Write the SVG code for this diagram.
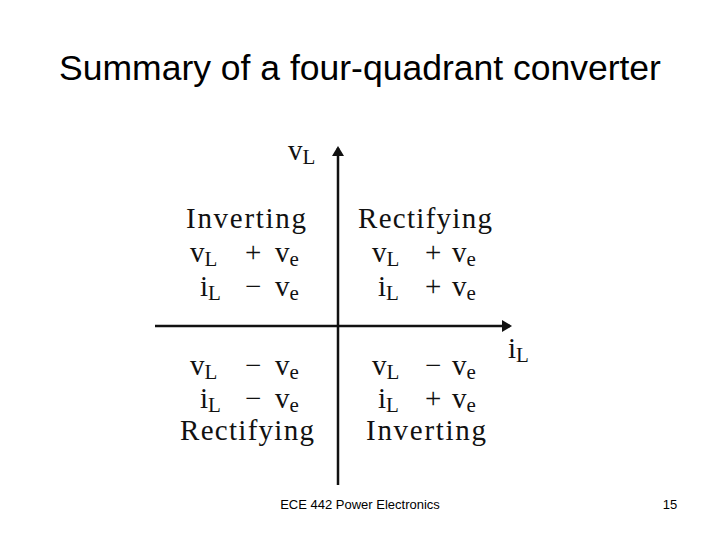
<svg xmlns="http://www.w3.org/2000/svg" width="720" height="540" viewBox="0 0 720 540">
<style>
.t{font-family:"Liberation Serif",serif;font-size:29px;fill:#111}
.s{font-size:21px}
.ax{stroke:#111;stroke-width:2.5}
</style>
<defs><marker id="a" markerWidth="10" markerHeight="12" refX="8" refY="6" orient="auto" markerUnits="userSpaceOnUse"><path d="M0,0L10,6L0,12z" fill="#111"/></marker></defs>
<rect width="720" height="540" fill="#fff"/>
<text x="360" y="80" text-anchor="middle" font-family="Liberation Sans,sans-serif" font-size="35.5">Summary of a four-quadrant converter</text>
<g id="connectors">
<line class="ax" x1="338" y1="485" x2="338" y2="148" marker-end="url(#a)"/>
<line class="ax" x1="155" y1="326" x2="510" y2="326" marker-end="url(#a)"/>
</g>
<g id="axis-v"><text class="t" x="288" y="160">v<tspan class="s" dy="4">L</tspan></text></g>
<g id="axis-i"><text class="t" x="508" y="358">i<tspan class="s" dy="4">L</tspan></text></g>
<g id="q2">
<text class="t" x="186" y="228" textLength="120">Inverting</text>
<text class="t" x="190" y="262">v<tspan class="s" dy="4">L</tspan></text><text class="t" x="245" y="262">+</text><text class="t" x="275" y="262">v<tspan class="s" dy="4">e</tspan></text>
<text class="t" x="200" y="296">i<tspan class="s" dy="4">L</tspan></text><text class="t" x="245" y="296">−</text><text class="t" x="275" y="296">v<tspan class="s" dy="4">e</tspan></text>
</g>
<g id="q1">
<text class="t" x="358" y="228" textLength="134">Rectifying</text>
<text class="t" x="372" y="262">v<tspan class="s" dy="4">L</tspan></text><text class="t" x="425" y="262">+</text><text class="t" x="452" y="262">v<tspan class="s" dy="4">e</tspan></text>
<text class="t" x="378" y="296">i<tspan class="s" dy="4">L</tspan></text><text class="t" x="425" y="296">+</text><text class="t" x="452" y="296">v<tspan class="s" dy="4">e</tspan></text>
</g>
<g id="q3">
<text class="t" x="190" y="375">v<tspan class="s" dy="4">L</tspan></text><text class="t" x="245" y="375">−</text><text class="t" x="275" y="375">v<tspan class="s" dy="4">e</tspan></text>
<text class="t" x="200" y="408">i<tspan class="s" dy="4">L</tspan></text><text class="t" x="245" y="408">−</text><text class="t" x="275" y="408">v<tspan class="s" dy="4">e</tspan></text>
<text class="t" x="180" y="440" textLength="134">Rectifying</text>
</g>
<g id="q4">
<text class="t" x="372" y="375">v<tspan class="s" dy="4">L</tspan></text><text class="t" x="425" y="375">−</text><text class="t" x="452" y="375">v<tspan class="s" dy="4">e</tspan></text>
<text class="t" x="378" y="408">i<tspan class="s" dy="4">L</tspan></text><text class="t" x="425" y="408">+</text><text class="t" x="452" y="408">v<tspan class="s" dy="4">e</tspan></text>
<text class="t" x="366" y="440" textLength="120">Inverting</text>
</g>
<text x="360" y="509" text-anchor="middle" font-family="Liberation Sans,sans-serif" font-size="13">ECE 442 Power Electronics</text>
<text x="670" y="509" text-anchor="middle" font-family="Liberation Sans,sans-serif" font-size="13">15</text>
</svg>
